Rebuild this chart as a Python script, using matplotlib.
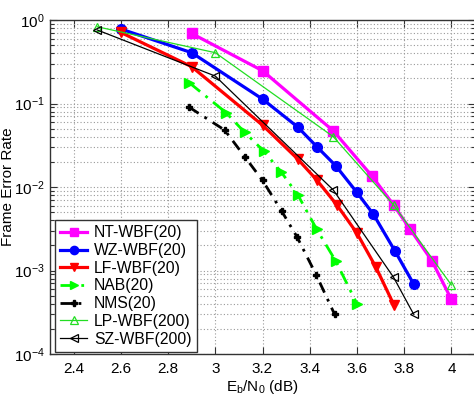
import matplotlib
matplotlib.use("Agg")
import matplotlib.pyplot as plt
from matplotlib.ticker import LogLocator, NullFormatter, FixedLocator

plt.rcParams['font.family'] = ['Liberation Sans', 'DejaVu Sans']
plt.rcParams['mathtext.fontset'] = 'custom'
plt.rcParams['mathtext.rm'] = 'Liberation Sans'
plt.rcParams['mathtext.it'] = 'Liberation Sans:italic'
plt.rcParams['mathtext.bf'] = 'Liberation Sans:bold'

# ---- data ----
labels = ["NT-WBF(20)", "WZ-WBF(20)", "LF-WBF(20)", "NAB(20)", "NMS(20)",
          "LP-WBF(200)", "SZ-WBF(200)"]

nt_x = [2.9, 3.2, 3.5, 3.664, 3.755, 3.826, 3.918, 4.0]
nt_y = [0.69, 0.247, 0.047, 0.0135, 0.0061, 0.0031, 0.0013, 0.00045]

wz_x = [2.6, 2.9, 3.2, 3.35, 3.43, 3.51, 3.6, 3.67, 3.76, 3.84]
wz_y = [0.78, 0.406, 0.113, 0.052, 0.0304, 0.018, 0.0086, 0.0047, 0.00173, 0.00069]

lf_x = [2.6, 2.9, 3.2, 3.35, 3.43, 3.515, 3.6, 3.68, 3.756]
lf_y = [0.71, 0.276, 0.055, 0.0215, 0.0121, 0.0061, 0.0028, 0.0011, 0.00039]

nab_x = [2.89, 3.045, 3.125, 3.205, 3.28, 3.35, 3.43, 3.51, 3.6]
nab_y = [0.177, 0.078, 0.045, 0.027, 0.015, 0.008, 0.0031, 0.0013, 0.0004]

nms_x = [2.89, 3.04, 3.125, 3.2, 3.282, 3.347, 3.428, 3.505]
nms_y = [0.09, 0.048, 0.023, 0.012, 0.0051, 0.0025, 0.00088, 0.0003]

lp_x = [2.5, 3.0, 3.5, 3.755, 4.0]
lp_y = [0.83, 0.406, 0.04, 0.0061, 0.00067]

sz_x = [2.5, 3.0, 3.5, 3.755, 3.84]
sz_y = [0.76, 0.213, 0.0092, 0.00083, 0.0003]

x_ticks = [2.4, 2.6, 2.8, 3.0, 3.2, 3.4, 3.6, 3.8, 4.0]
x_ticklabels = ["2.4", "2.6", "2.8", "3", "3.2", "3.4", "3.6", "3.8", "4"]

# ---- figure ----
fig = plt.figure(figsize=(4.74, 3.95), dpi=100)
W, H = 474, 395
ax = fig.add_axes([50 / W, (H - 354) / H, (475 - 50) / W, (354 - 20) / H])

ax.plot(nt_x, nt_y, '-', color='#FF00FF', lw=2.3, marker='s', ms=6.5,
        mfc='#FF00FF', mec='#FF00FF', label=labels[0])
ax.plot(wz_x, wz_y, '-', color='#0000FF', lw=2.3, marker='o', ms=7,
        mfc='#0000FF', mec='#0000FF', label=labels[1])
ax.plot(lf_x, lf_y, '-', color='#FF0000', lw=2.3, marker='v', ms=7.5,
        mfc='#FF0000', mec='#FF0000', label=labels[2])
ax.plot(nab_x, nab_y, color='#00FF00', lw=2.0, dashes=(5, 2.5, 1, 2.5),
        marker='>', ms=7.5, mfc='#00FF00', mec='#00FF00', label=labels[3])
ax.plot(nms_x, nms_y, color='black', lw=2.0, dashes=(4, 2.5, 1, 2.5),
        marker='P', ms=5, mfc='black', mec='black', label=labels[4])
ax.plot(lp_x, lp_y, '-', color='#22DD22', lw=0.9, marker='^', ms=6,
        mfc='none', mec='#22DD22', mew=0.9, label=labels[5])
ax.plot(sz_x, sz_y, '-', color='black', lw=0.9, marker='<', ms=6,
        mfc='none', mec='black', mew=0.9, label=labels[6])

ax.set_yscale('log')
ax.set_xlim(2.3, 4.1)
ax.set_ylim(1e-4, 1)
ax.xaxis.set_major_locator(FixedLocator(x_ticks))
ax.set_xticklabels(x_ticklabels)
ax.yaxis.set_major_locator(LogLocator(base=10, numticks=10))
ax.yaxis.set_minor_locator(LogLocator(base=10, subs=range(2, 10), numticks=20))
ax.yaxis.set_minor_formatter(NullFormatter())

ax.grid(True, which='major', axis='both', linestyle=(0, (1, 2)),
        color='#999999', lw=0.8)
ax.grid(True, which='minor', axis='y', linestyle=(0, (1, 2)),
        color='#999999', lw=0.8)
ax.set_axisbelow(True)

ax.tick_params(which='both', direction='in', top=True, right=True,
               labelsize=11, color='#333333')
ax.tick_params(which='major', length=5, width=0.8, pad=6)
ax.tick_params(axis='y', which='major', pad=4)
ax.tick_params(which='minor', length=3, width=0.8)
for s in ax.spines.values():
    s.set_color('#333333')
    s.set_linewidth(1.0)

ax.set_xlabel(r'E$_\mathregular{b}$/N$_\mathregular{0}$ (dB)', fontsize=11,
              labelpad=1)
ax.set_ylabel('Frame Error Rate', fontsize=11)
ax.yaxis.set_label_coords(-0.082, 0.5)

leg = ax.legend(loc='lower left', bbox_to_anchor=(0.011, 0.006),
                borderaxespad=0, fontsize=11.3, labelspacing=0.17,
                handlelength=1.7, handletextpad=0.45, borderpad=0.35,
                markerscale=0.85,
                fancybox=False, framealpha=1, edgecolor='#333333')
leg.get_frame().set_linewidth(1.0)

fig.savefig('out.png', dpi=100)
